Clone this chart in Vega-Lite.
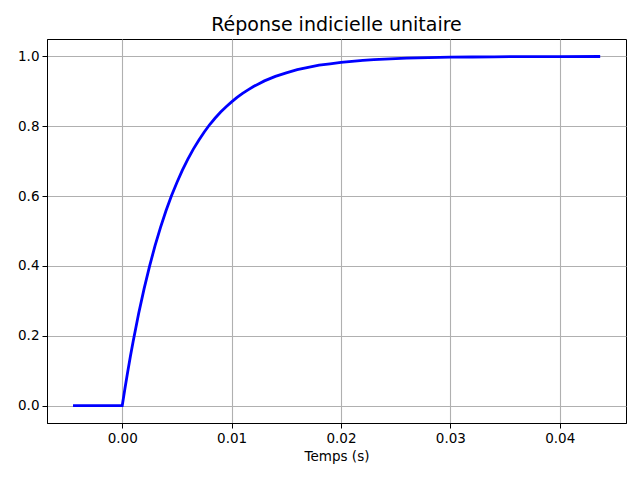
{
  "$schema": "https://vega.github.io/schema/vega-lite/v6.json",
  "width": 579,
  "height": 384,
  "autosize": "none",
  "padding": {"left": 47, "top": 39, "right": 14, "bottom": 57},
  "background": "white",
  "title": {"text": "Réponse indicielle unitaire", "font": "DejaVu Sans", "fontSize": 19, "fontWeight": "normal", "color": "black", "offset": 4},
  "config": {
    "view": {"stroke": "black", "strokeWidth": 1},
    "axis": {
      "labelFont": "DejaVu Sans", "labelFontSize": 13.5, "labelColor": "black",
      "titleFont": "DejaVu Sans", "titleFontSize": 13.5, "titleFontWeight": "normal", "titleColor": "black",
      "domainColor": "black", "tickColor": "black", "tickSize": 5, "tickWidth": 1,
      "gridColor": "#b0b0b0", "gridWidth": 1.1, "labelPadding": 3
    }
  },
  "data": {"values": [
    {"t": -0.0045, "y": 0},
    {"t": -0.003, "y": 0},
    {"t": -0.0015, "y": 0},
    {"t": 0.0, "y": 0},
    {"t": 0.00025, "y": 0.0497},
    {"t": 0.0005, "y": 0.097},
    {"t": 0.00075, "y": 0.142},
    {"t": 0.001, "y": 0.1845},
    {"t": 0.0015, "y": 0.2637},
    {"t": 0.002, "y": 0.335},
    {"t": 0.0025, "y": 0.3996},
    {"t": 0.003, "y": 0.458},
    {"t": 0.0035, "y": 0.5105},
    {"t": 0.004, "y": 0.558},
    {"t": 0.0045, "y": 0.6008},
    {"t": 0.005, "y": 0.639},
    {"t": 0.0055, "y": 0.6745},
    {"t": 0.006, "y": 0.706},
    {"t": 0.0065, "y": 0.7346},
    {"t": 0.007, "y": 0.760},
    {"t": 0.0075, "y": 0.7836},
    {"t": 0.008, "y": 0.805},
    {"t": 0.0085, "y": 0.8236},
    {"t": 0.009, "y": 0.841},
    {"t": 0.0095, "y": 0.8561},
    {"t": 0.010, "y": 0.870},
    {"t": 0.0105, "y": 0.8827},
    {"t": 0.011, "y": 0.894},
    {"t": 0.0115, "y": 0.9044},
    {"t": 0.012, "y": 0.914},
    {"t": 0.0125, "y": 0.922},
    {"t": 0.013, "y": 0.930},
    {"t": 0.0135, "y": 0.9364},
    {"t": 0.014, "y": 0.943},
    {"t": 0.015, "y": 0.953},
    {"t": 0.016, "y": 0.962},
    {"t": 0.017, "y": 0.969},
    {"t": 0.018, "y": 0.975},
    {"t": 0.019, "y": 0.979},
    {"t": 0.020, "y": 0.983},
    {"t": 0.021, "y": 0.9862},
    {"t": 0.022, "y": 0.989},
    {"t": 0.023, "y": 0.9909},
    {"t": 0.024, "y": 0.9925},
    {"t": 0.025, "y": 0.9939},
    {"t": 0.026, "y": 0.995},
    {"t": 0.027, "y": 0.996},
    {"t": 0.028, "y": 0.9967},
    {"t": 0.030, "y": 0.9978},
    {"t": 0.032, "y": 0.9985},
    {"t": 0.034, "y": 0.999},
    {"t": 0.036, "y": 0.9994},
    {"t": 0.040, "y": 0.9997},
    {"t": 0.0437, "y": 0.9999}
  ]},
  "mark": {"type": "line", "color": "blue", "strokeWidth": 2.8, "clip": true},
  "encoding": {
    "x": {"field": "t", "type": "quantitative", "title": "Temps (s)",
      "scale": {"domain": [-0.00688, 0.04606], "nice": false, "zero": false},
      "axis": {"values": [0, 0.01, 0.02, 0.03, 0.04], "format": ".2f", "titlePadding": 5}},
    "y": {"field": "y", "type": "quantitative", "title": null,
      "scale": {"domain": [-0.05, 1.05], "nice": false, "zero": false},
      "axis": {"values": [0, 0.2, 0.4, 0.6, 0.8, 1.0], "format": ".1f"}}
  }
}
